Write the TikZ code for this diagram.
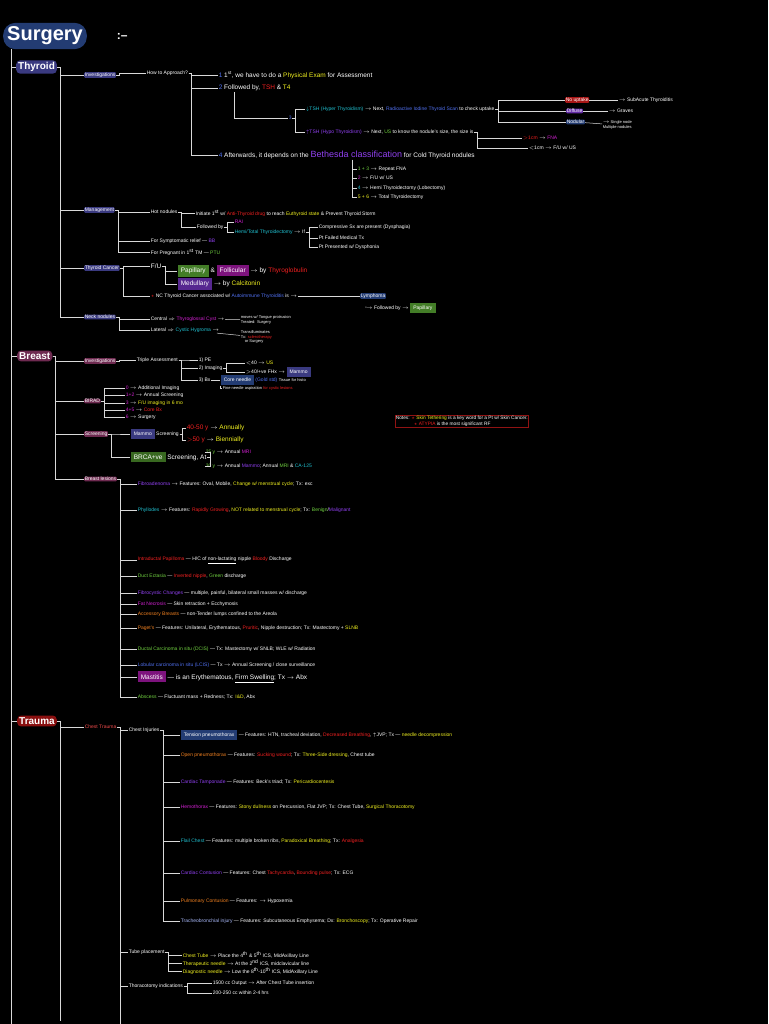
\documentclass[tikz,border=0pt]{standalone}
\usepackage{tikz}
\usepackage{fontspec}
\setmainfont{Liberation Sans}
\usetikzlibrary{positioning}
\definecolor{sblue}{HTML}{233C73}
\definecolor{spurple}{HTML}{3A3A80}
\definecolor{sbreast}{HTML}{6E2A50}
\definecolor{strauma}{HTML}{8A1010}
\definecolor{ylw}{HTML}{F0F020}
\definecolor{grn}{HTML}{70D040}
\definecolor{cyn}{HTML}{20C0D0}
\definecolor{mag}{HTML}{D020D0}
\definecolor{vio}{HTML}{9040F0}
\definecolor{org}{HTML}{F08020}
\definecolor{rd}{HTML}{F02020}
\definecolor{lbl}{HTML}{5070F0}
\newcommand{\br}[2]{\draw[br] (#1.east) -- ++(3,0) |- (#2.west);}
\begin{document}
\begin{tikzpicture}[x=1pt,y=-1pt,
  every node/.style={font=\fontsize{5}{6}\selectfont,text=white,inner sep=0.6pt,anchor=west},
  br/.style={draw=white!85!black,line width=0.5pt},
  main/.style={font=\fontsize{10}{11}\selectfont\bfseries,rounded corners=4pt,inner sep=2pt},
  tag/.style={fill=#1,rounded corners=1pt},
  big/.style={font=\fontsize{6.5}{7.5}\selectfont},
  small/.style={font=\fontsize{4}{4.8}\selectfont}]
\useasboundingbox[fill=black] (0,0) rectangle (768,1024);

\node[main,fill=sblue,font=\fontsize{20}{22}\selectfont\bfseries,rounded corners=12pt,inner sep=4pt] (surgery) at (3,36) {Surgery};
\node[font=\fontsize{12}{13}\selectfont\bfseries] (colon) at (116,36) {:--};
\coordinate (trunk) at (11,1024);

% Thyroid
\node[main,fill=spurple] (thyroid) at (16,67) {Thyroid};
\node[tag=spurple] (thinv) at (84,75) {Investigations};
\node (approach) at (146,73) {How to Approach?};
\node[big] (s1) at (218,75) {\textcolor{lbl}{1} 1\textsuperscript{st}, we have to do a \textcolor{ylw}{Physical Exam} for Assessment};
\node[big] (s2) at (218,88) {\textcolor{lbl}{2} Followed by, \textcolor{rd}{TSH} \& \textcolor{ylw}{T4}};
\node (s3) at (288,118) {\textcolor{lbl}{3}};
\node (ltsh) at (305,109) {\textcolor{cyn}{$\downarrow$TSH (Hyper Thyroidism)} $\rightarrow$ Next, \textcolor{lbl}{Radioactive Iodine Thyroid Scan} to check uptake};
\node[tag=rd!70!black] (noup) at (565,100) {No uptake};
\node (subac) at (618,100) {$\rightarrow$ SubAcute Thyroiditis};
\node[tag=vio!70!black] (diffuse) at (566,111) {Diffuse};
\node (graves) at (608,111) {$\rightarrow$ Graves};
\node[tag=sblue] (nodular) at (566,122) {Nodular};
\node[align=left,small] (single) at (602,125) {$\rightarrow$ Single node\\Multiple nodules};
\node (htsh) at (305,132) {\textcolor{vio}{$\uparrow$TSH (Hypo Thyroidism)} $\rightarrow$ Next, \textcolor{grn}{US} to know the nodule's size, the size is};
\node (gt1) at (522,138) {\textcolor{rd}{$>$1cm} $\rightarrow$ \textcolor{mag}{FNA}};
\node (lt1) at (528,148) {$<$1cm $\rightarrow$ F/U w/ US};
\node[big] (s4) at (218,155) {\textcolor{lbl}{4} Afterwards, it depends on the \textcolor{vio}{\fontsize{9}{10}\selectfont Bethesda classification} for Cold Thyroid nodules};
\coordinate (beth) at (352,160);
\node (b1) at (357,169) {\textcolor{grn}{1 + 3} $\rightarrow$ Repeat FNA};
\node (b2) at (357,178) {\textcolor{mag}{2} $\rightarrow$ F/U w/ US};
\node (b3) at (357,188) {\textcolor{cyn}{4} $\rightarrow$ Hemi Thyroidectomy (Lobectomy)};
\node (b4) at (357,197) {\textcolor{ylw}{5 + 6} $\rightarrow$ Total Thyroidectomy};
\br{thyroid}{thinv} \br{thinv}{approach} \br{approach}{s1} \br{approach}{s2} \br{approach}{s4}
\draw[br] ([xshift=-20pt]s2.south) |- (s3.west); \br{s3}{ltsh} \br{s3}{htsh}
\br{ltsh}{noup} \br{ltsh}{diffuse} \br{ltsh}{nodular}
\draw[br] (noup) -- (subac); \draw[br] (diffuse) -- (graves); \draw[br] (nodular) -- (single);
\br{htsh}{gt1} \br{htsh}{lt1}
\foreach \n in {b1,b2,b3,b4} {\draw[br] (beth) |- (\n.west);}

\node[tag=spurple] (mgmt) at (84,210) {Management};
\node (hot) at (150,212) {Hot nodules};
\node (init) at (195,213) {Initiate 1\textsuperscript{st} w/ \textcolor{rd}{Anti-Thyroid drug} to reach \textcolor{ylw}{Euthyroid state} \& Prevent Thyroid Storm};
\node (follow) at (196,227) {Followed by};
\node (rai) at (234,222) {\textcolor{mag}{RAI}};
\node (hemi) at (234,232) {\textcolor{cyn}{Hemi/Total Thyroidectomy} $\rightarrow$ If};
\node (c1) at (318,227) {Compressive Sx are present (Dysphagia)};
\node (c2) at (318,238) {Pt Failed Medical Tx};
\node (c3) at (318,247) {Pt Presented w/ Dysphonia};
\node (bb) at (150,241) {For Symptomatic relief --- \textcolor{vio}{BB}};
\node (ptu) at (150,252) {For Pregnant in 1\textsuperscript{st} TM --- \textcolor{grn}{PTU}};
\br{thyroid}{mgmt} \br{mgmt}{hot} \br{mgmt}{bb} \br{mgmt}{ptu} \br{hot}{init} \br{hot}{follow}
\br{follow}{rai} \br{follow}{hemi} \br{hemi}{c1} \br{hemi}{c2} \br{hemi}{c3}

\node[tag=spurple] (tcancer) at (84,268) {Thyroid Cancer};
\node[big] (fu) at (150,266) {F/U};
\node[big] (pap) at (177,271) {\colorbox{grn!60!black}{Papillary} \& \colorbox{mag!60!black}{Follicular} $\rightarrow$ by \textcolor{rd}{Thyroglobulin}};
\node[big] (med) at (177,284) {\colorbox{vio!60!black}{Medullary} $\rightarrow$ by \textcolor{ylw}{Calcitonin}};
\node (nc) at (150,296) {\textcolor{rd}{$\star$} NC Thyroid Cancer associated w/ \textcolor{lbl}{Autoimmune Thyroiditis} is $\rightarrow$};
\node[tag=sblue] (lymph) at (360,296) {Lymphoma};
\node (fol2) at (364,308) {$\hookrightarrow$ Followed by $\rightarrow$ \colorbox{grn!60!black}{Papillary}};
\br{thyroid}{tcancer} \br{tcancer}{fu} \br{tcancer}{nc} \br{fu}{pap} \br{fu}{med}
\draw[br] (nc) -- (lymph);

\node[tag=spurple] (neck) at (84,317) {Neck nodules};
\node (central) at (150,319) {Central $\Rightarrow$ \textcolor{mag}{Thyroglossal Cyst} $\rightarrow$};
\node[align=left,small] (cent2) at (240,320) {moves w/ Tongue protrusion\\Treated: Surgery};
\node (lateral) at (150,330) {Lateral $\Rightarrow$ \textcolor{cyn}{Cystic Hygroma} $\rightarrow$};
\node[align=left,small] (lat2) at (240,337) {Transilluminates\\Tx: \textcolor{rd}{sclerotherapy}\\\quad or Surgery};
\br{thyroid}{neck} \br{neck}{central} \br{neck}{lateral}
\draw[br] (central) -- (cent2); \draw[br] (lateral) -- (lat2);

% Breast
\node[main,fill=sbreast] (breast) at (17,356) {Breast};
\node[tag=sbreast] (brinv) at (84,361) {Investigations};
\node (triple) at (136,360) {Triple Assessment};
\node (pe) at (198,360) {1) PE};
\node (img) at (198,368) {2) Imaging};
\node (us) at (245,363) {$<$40 $\rightarrow$ \textcolor{ylw}{US}};
\node (mam) at (245,372) {$>$40/+ve FHx $\rightarrow$ \colorbox{spurple}{Mammo}};
\node (bx) at (198,380) {3) Bx};
\node (core) at (220,380) {\colorbox{sblue}{Core needle} \textcolor{lbl}{(Gold std)} \fontsize{4}{5}\selectfont Tissue for histo};
\node[small] (fna) at (222,388) {Fine needle aspiration \textcolor{rd}{for cystic lesions}};
\br{breast}{brinv} \br{brinv}{triple} \br{triple}{pe} \br{triple}{img} \br{triple}{bx}
\br{img}{us} \br{img}{mam} \draw[br] (bx) -- (core); \draw[br] (core.south west) |- (fna.west);

\node[tag=sbreast] (birad) at (84,401) {BIRAD};
\node (b0) at (125,388) {\textcolor{mag}{0} $\rightarrow$ Additional Imaging};
\node (b12) at (125,395) {\textcolor{mag}{1+2} $\rightarrow$ Annual Screening};
\node (b3r) at (125,403) {\textcolor{mag}{3} $\rightarrow$ \textcolor{ylw}{F/U imaging in 6 mo}};
\node (b45) at (125,410) {\textcolor{mag}{4+5} $\rightarrow$ \textcolor{rd}{Core Bx}};
\node (b6) at (125,417) {\textcolor{mag}{6} $\rightarrow$ Surgery};
\br{breast}{birad} \br{birad}{b0} \br{birad}{b12} \br{birad}{b3r} \br{birad}{b45} \br{birad}{b6}

\node[tag=sbreast] (screen) at (84,434) {Screening};
\node (mscr) at (130,434) {\colorbox{spurple}{Mammo} Screening};
\node[big] (ann) at (186,428) {\textcolor{rd}{40-50 y} $\rightarrow$ \textcolor{ylw}{Annually}};
\node[big] (bie) at (186,440) {\textcolor{rd}{$>$50 y} $\rightarrow$ \textcolor{ylw}{Biennially}};
\node[big] (brca) at (130,457) {\colorbox{grn!50!black}{BRCA+ve} Screening, At};
\node (y25) at (205,452) {\textcolor{grn}{25 y} $\rightarrow$ Annual \textcolor{mag}{MRI}};
\node (y30) at (205,466) {\textcolor{grn}{30 y} $\rightarrow$ Annual \textcolor{vio}{Mammo}; Annual \textcolor{grn}{MRI} \& \textcolor{cyn}{CA-125}};
\br{breast}{screen} \br{screen}{mscr} \br{screen}{brca} \br{mscr}{ann} \br{mscr}{bie} \br{brca}{y25} \br{brca}{y30}

\node[tag=sbreast] (lesions) at (84,479) {Breast lesions};
\node (fib) at (137,484) {\textcolor{vio}{Fibroadenoma} $\rightarrow$ Features: Oval, Mobile, \textcolor{ylw}{Change w/ menstrual cycle}; Tx: exc};
\node (phy) at (137,510) {\textcolor{cyn}{Phyllodes} $\rightarrow$ Features: \textcolor{rd}{Rapidly Growing}, \textcolor{ylw}{NOT related to menstrual cycle}; Tx: \textcolor{grn}{Benign}/\textcolor{vio}{Malignant}};
\node (pap2) at (137,560) {\textcolor{rd}{Intraductal Papilloma} --- H/C of \underline{non-lactating} nipple \textcolor{rd}{Bloody} Discharge};
\node (duct) at (137,576) {\textcolor{grn}{Duct Ectasia} --- \textcolor{rd}{Inverted nipple}, \textcolor{grn}{Green} discharge};
\node (fcc) at (137,593) {\textcolor{vio}{Fibrocystic Changes} --- multiple, painful, bilateral small masses w/ discharge};
\node (fat) at (137,604) {\textcolor{mag}{Fat Necrosis} --- Skin retraction + Ecchymosis};
\node (acc) at (137,614) {\textcolor{org}{Accessory Breasts} --- non-Tender lumps confined to the Areola};
\node (paget) at (137,628) {\textcolor{org}{Paget's} --- Features: Unilateral, Erythematous, \textcolor{rd}{Pruritic}, Nipple destruction; Tx: Mastectomy + \textcolor{ylw}{SLNB}};
\node (dcis) at (137,649) {\textcolor{grn}{Ductal Carcinoma in situ (DCIS)} --- Tx: Mastectomy w/ SNLB; WLE w/ Radiation};
\node (lcis) at (137,665) {\textcolor{lbl}{Lobular carcinoma in situ (LCIS)} --- Tx $\rightarrow$ Annual Screening / close surveillance};
\node[big] (mast) at (137,677) {\colorbox{mag!60!black}{Mastitis} --- is an Erythematous, \underline{Firm Swelling}; Tx $\rightarrow$ Abx};
\node (absc) at (137,697) {\textcolor{grn}{Abscess} --- Fluctuant mass + Redness; Tx: \textcolor{ylw}{I\&D}, Abx};
\br{breast}{lesions}
\foreach \n in {fib,phy,pap2,duct,fcc,fat,acc,paget,dcis,lcis,mast,absc} {\br{lesions}{\n}}

\node[draw=rd!60!black,align=left,font=\fontsize{4.8}{6}\selectfont] (notes) at (395,421) {Notes: \textcolor{rd}{$\star$} \textcolor{ylw}{Skin Tethering} is a key word for a Pt w/ Skin Cancer.\\\hspace{18pt}\textcolor{rd}{$\star$ ATYPIA} is the most significant RF};

% Trauma
\node[main,fill=strauma] (trauma) at (17,721) {Trauma};
\node (chest) at (84,727) {\textcolor{rd!80!white}{Chest Trauma}};
\node (inj) at (128,730) {Chest Injuries};
\node (tens) at (180,735) {\colorbox{sblue}{Tension pneumothorax} --- Features: HTN, tracheal deviation, \textcolor{rd}{Decreased Breathing}, $\uparrow$JVP; Tx --- \textcolor{ylw}{needle decompression}};
\node (open) at (180,755) {\textcolor{org}{Open pneumothorax} --- Features: \textcolor{rd}{Sucking wound}; Tx: \textcolor{ylw}{Three-Side dressing}, Chest tube};
\node (tamp) at (180,782) {\textcolor{vio}{Cardiac Tamponade} --- Features: Beck's triad; Tx: \textcolor{ylw}{Pericardiocentesis}};
\node (hemo) at (180,807) {\textcolor{mag}{Hemothorax} --- Features: \textcolor{ylw}{Stony dullness} on Percussion, Flat JVP; Tx: Chest Tube, \textcolor{ylw}{Surgical Thoracotomy}};
\node (flail) at (180,841) {\textcolor{cyn}{Flail Chest} --- Features: multiple broken ribs, \textcolor{ylw}{Paradoxical Breathing}; Tx: \textcolor{rd}{Analgesia}};
\node (ccont) at (180,873) {\textcolor{vio}{Cardiac Contusion} --- Features: Chest \textcolor{rd}{Tachycardia}, \textcolor{rd}{Bounding pulse}; Tx: ECG};
\node (pcont) at (180,901) {\textcolor{org}{Pulmonary Contusion} --- Features: $\rightarrow$ Hypoxemia};
\node (trach) at (180,921) {\textcolor{lbl!50!white}{Tracheobronchial injury} --- Features: Subcutaneous Emphysema; Dx: \textcolor{ylw}{Bronchoscopy}; Tx: Operative Repair};
\node (tube) at (128,952) {Tube placement};
\node (ct) at (182,955) {\textcolor{ylw}{Chest Tube} $\rightarrow$ Place the 4\textsuperscript{th} \& 5\textsuperscript{th} ICS, MidAxillary Line};
\node (thn) at (182,963) {\textcolor{ylw}{Therapeutic needle} $\rightarrow$ At the 2\textsuperscript{nd} ICS, midclavicular line};
\node (dxn) at (182,971) {\textcolor{ylw}{Diagnostic needle} $\rightarrow$ Low the 8\textsuperscript{th}-10\textsuperscript{th} ICS, MidAxillary Line};
\node (thor) at (128,986) {Thoracotomy indications};
\node (t1) at (212,983) {1500 cc Output $\rightarrow$ After Chest Tube insertion};
\node (t2) at (212,993) {200-250 cc within 2-4 hrs};
\br{trauma}{chest} \br{chest}{inj} \br{chest}{tube} \br{chest}{thor}
\foreach \n in {tens,open,tamp,hemo,flail,ccont,pcont,trach} {\br{inj}{\n}}
\br{tube}{ct} \br{tube}{thn} \br{tube}{dxn} \br{thor}{t1} \br{thor}{t2}

% trunks
\draw[br] ([xshift=8pt]surgery.south west) |- (thyroid.west);
\draw[br] ([xshift=8pt]surgery.south west) |- (breast.west);
\draw[br] ([xshift=8pt]surgery.south west) |- (trauma.west);
\draw[br] ([xshift=8pt]surgery.south west) -- (trunk);
\draw[br] (trauma.east) -- ++(3,0) -- ++(0,300);
\draw[br] (chest.east) -- ++(3,0) -- ++(0,300);
\end{tikzpicture}
\end{document}
